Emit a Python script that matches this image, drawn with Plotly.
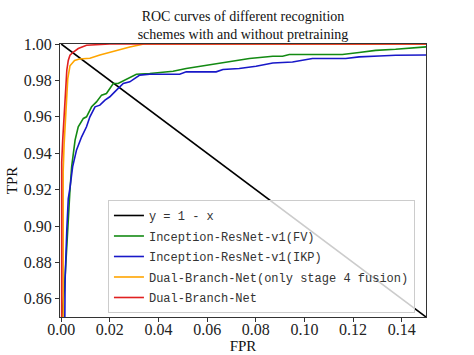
import plotly.graph_objects as go

# ---- data ----
diag_fpr = [0.0, 0.15]
diag_tpr = [1.0, 0.85]

fv_fpr = [0.0002, 0.0002, 0.0013, 0.0023, 0.003, 0.0036, 0.0043, 0.0057, 0.007, 0.0091,
          0.0104, 0.0125, 0.0145, 0.0166, 0.0186, 0.02, 0.0214, 0.0234, 0.0261, 0.0282,
          0.0309, 0.0364, 0.046, 0.0514, 0.0596, 0.0678, 0.0774, 0.087, 0.091, 0.0938,
          0.1156, 0.1225, 0.1293, 0.1375, 0.1416, 0.151]
fv_tpr = [0.80, 0.85, 0.865, 0.89, 0.908, 0.9198, 0.9326, 0.9472, 0.9545, 0.9591,
          0.96, 0.9655, 0.9682, 0.9719, 0.9728, 0.9756, 0.9783, 0.9783, 0.9801, 0.9819,
          0.9834, 0.9838, 0.985, 0.9865, 0.9883, 0.9901, 0.992, 0.9933, 0.9933, 0.9942,
          0.9942, 0.9953, 0.9965, 0.9971, 0.9975, 0.9985]

ikp_fpr = [0.0012, 0.0013, 0.0016, 0.0023, 0.0029, 0.0036, 0.0047, 0.0063, 0.0084, 0.0104,
           0.0118, 0.0139, 0.0159, 0.018, 0.02, 0.022, 0.0234, 0.0255, 0.0282, 0.0302,
           0.0323, 0.0364, 0.0487, 0.0514, 0.0637, 0.0665, 0.0732, 0.0801, 0.087, 0.0951,
           0.1033, 0.117, 0.1225, 0.1307, 0.1375, 0.151]
ikp_tpr = [0.80, 0.852, 0.8705, 0.898, 0.915, 0.921, 0.9326, 0.9418, 0.949, 0.9545,
           0.96, 0.9655, 0.9664, 0.9692, 0.971, 0.9737, 0.9756, 0.9783, 0.9792, 0.981,
           0.9829, 0.9834, 0.9834, 0.9847, 0.9847, 0.986, 0.9865, 0.9878, 0.9896, 0.9901,
           0.992, 0.992, 0.9929, 0.9934, 0.9938, 0.9940]

s4_fpr = [0.0008, 0.0008, 0.0012, 0.0016, 0.002, 0.0027, 0.0036, 0.0055, 0.0075, 0.0118,
          0.0159, 0.0227, 0.0282, 0.0316, 0.034, 0.151]
s4_tpr = [0.80, 0.93, 0.945, 0.9565, 0.969, 0.981, 0.988, 0.991, 0.9918, 0.9922,
          0.994, 0.9965, 0.9984, 0.9993, 1.0, 1.0]

dbn_fpr = [0.0002, 0.0002, 0.0006, 0.0009, 0.0016, 0.0023, 0.0029, 0.0036, 0.005, 0.007,
           0.0104, 0.015, 0.02, 0.151]
dbn_tpr = [0.80, 0.935, 0.947, 0.9545, 0.9746, 0.9856, 0.991, 0.9938, 0.9956, 0.9975,
           0.9993, 0.9998, 1.0, 1.0]

series_names = ["y = 1 - x", "Inception-ResNet-v1(FV)", "Inception-ResNet-v1(IKP)",
                "Dual-Branch-Net(only stage 4 fusion)", "Dual-Branch-Net"]
series_colors = ["#000000", "#138a13", "#1818c8", "#ffa500", "#e02020"]

x_ticks = [0.00, 0.02, 0.04, 0.06, 0.08, 0.10, 0.12, 0.14]
y_ticks = [0.86, 0.88, 0.90, 0.92, 0.94, 0.96, 0.98, 1.00]

xs = [diag_fpr, fv_fpr, ikp_fpr, s4_fpr, dbn_fpr]
ys = [diag_tpr, fv_tpr, ikp_tpr, s4_tpr, dbn_tpr]

fig = go.Figure()
for i, (x, y, name, col) in enumerate(zip(xs, ys, series_names, series_colors)):
    fig.add_trace(go.Scatter(x=x, y=y, mode="lines", name=name, legendgroup=f"g{i}",
                             line=dict(color=col, width=1.6)))

serif = "Liberation Serif"
axis_common = dict(showline=True, linecolor="#333333", linewidth=1, mirror=True,
                   ticks="outside", ticklen=4, tickcolor="#333333", showgrid=False,
                   zeroline=False, automargin=False,
                   tickfont=dict(family=serif, size=16, color="#222222"))

fig.update_layout(
    width=474, height=355,
    margin=dict(l=60, r=48, t=44, b=38),
    paper_bgcolor="white", plot_bgcolor="white",
    title=dict(text="ROC curves of different recognition<br>schemes with and without pretraining",
               font=dict(family=serif, size=14, color="#111111"),
               x=243 / 474, xanchor="center",
               y=1 - 21 / 355, yanchor="middle", yref="container"),
    xaxis=dict(range=[-0.0005, 0.15], tickvals=x_ticks, tickformat=".2f",
               ticklabelstandoff=-6,
               title=dict(text="FPR", font=dict(family=serif, size=15, color="#111111"), standoff=0),
               **axis_common),
    yaxis=dict(range=[0.85, 1.0], tickvals=y_ticks, tickformat=".2f",
               title=dict(text="TPR", font=dict(family=serif, size=15, color="#111111"), standoff=2),
               **axis_common),
    legend=dict(x=0.131, y=0.4286, xanchor="left", yanchor="top",
                bgcolor="rgba(255,255,255,0.8)", bordercolor="#cccccc", borderwidth=1,
                font=dict(family="Liberation Mono", size=12, color="#333333"),
                itemwidth=30, tracegroupgap=1.5),
    showlegend=True,
)

fig.write_html("out.html", config={"displayModeBar": False},
               post_script="document.body.style.margin='0';")
